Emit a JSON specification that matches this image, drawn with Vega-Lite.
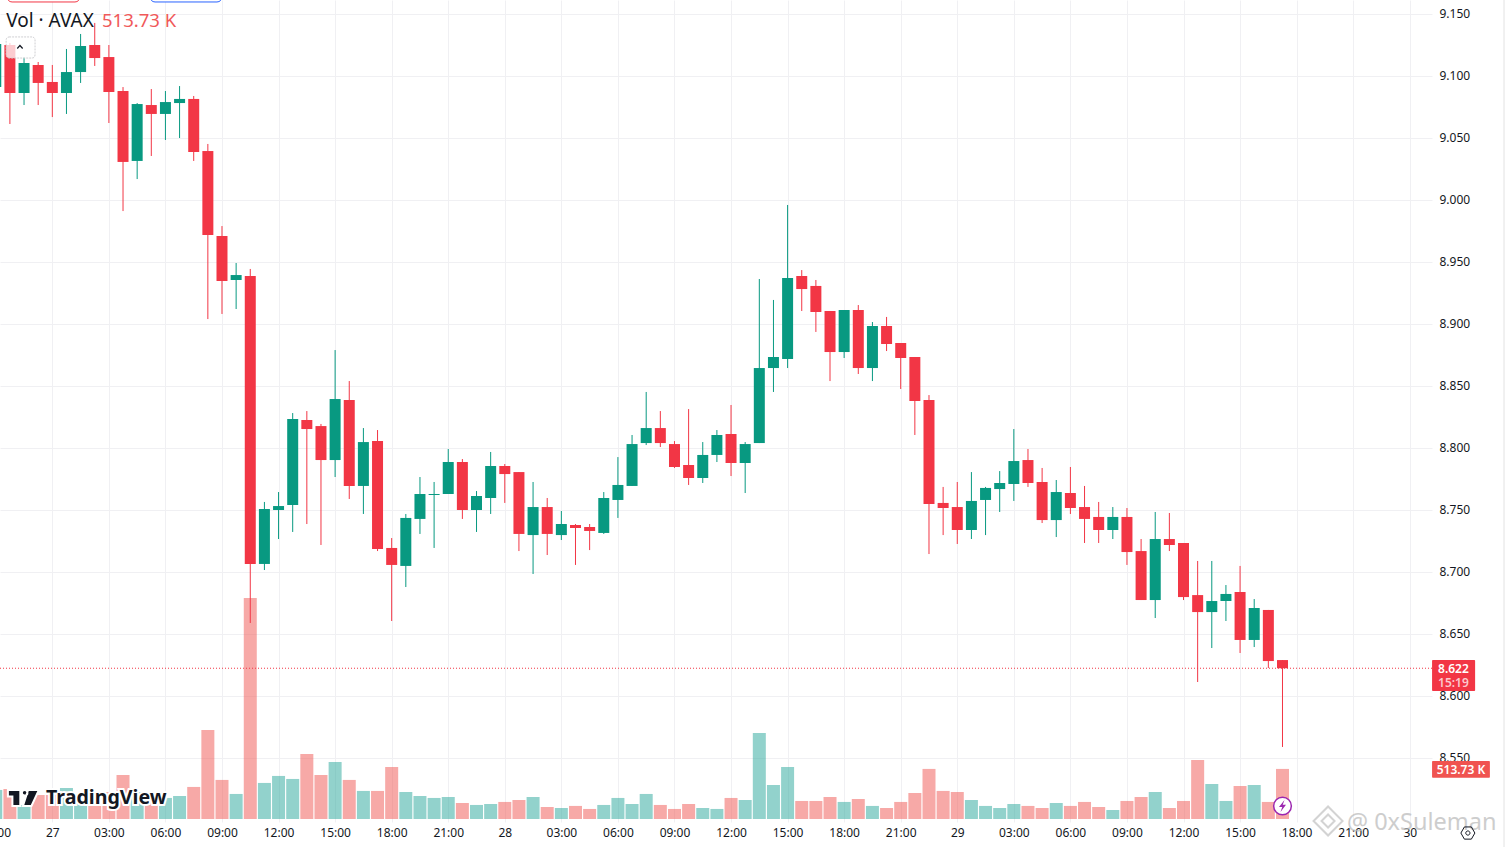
{
  "$schema": "https://vega.github.io/schema/vega-lite/v6.json",
  "width": 1432,
  "height": 822,
  "autosize": "none",
  "padding": {"left": 0, "top": 0, "right": 73, "bottom": 25},
  "background": "white",
  "config": {"view": {"stroke": null}, "font": "Noto Sans"},
  "datasets": {
    "candles": [
      {"t":"2026-01-26T21:00:00Z","open":9.0907,"high":9.1254,"low":9.0907,"close":9.1254,"volume":298},
      {"t":"2026-01-26T21:45:00Z","open":9.1246,"high":9.1262,"low":9.0609,"close":9.0859,"volume":308},
      {"t":"2026-01-26T22:30:00Z","open":9.0859,"high":9.1149,"low":9.0762,"close":9.1101,"volume":144},
      {"t":"2026-01-26T23:15:00Z","open":9.1085,"high":9.1109,"low":9.0762,"close":9.0940,"volume":246},
      {"t":"2026-01-27T00:00:00Z","open":9.0948,"high":9.1085,"low":9.0665,"close":9.0859,"volume":246},
      {"t":"2026-01-27T00:45:00Z","open":9.0859,"high":9.1214,"low":9.0690,"close":9.1028,"volume":318},
      {"t":"2026-01-27T01:30:00Z","open":9.1028,"high":9.1335,"low":9.0940,"close":9.1238,"volume":205},
      {"t":"2026-01-27T02:15:00Z","open":9.1246,"high":9.1424,"low":9.1077,"close":9.1141,"volume":205},
      {"t":"2026-01-27T03:00:00Z","open":9.1149,"high":9.1246,"low":9.0617,"close":9.0867,"volume":277},
      {"t":"2026-01-27T03:45:00Z","open":9.0875,"high":9.0907,"low":8.9907,"close":9.0303,"volume":452},
      {"t":"2026-01-27T04:30:00Z","open":9.0311,"high":9.0778,"low":9.0165,"close":9.0770,"volume":277},
      {"t":"2026-01-27T05:15:00Z","open":9.0762,"high":9.0891,"low":9.0351,"close":9.0690,"volume":205},
      {"t":"2026-01-27T06:00:00Z","open":9.0690,"high":9.0875,"low":9.0480,"close":9.0786,"volume":216},
      {"t":"2026-01-27T06:45:00Z","open":9.0778,"high":9.0915,"low":9.0496,"close":9.0811,"volume":236},
      {"t":"2026-01-27T07:30:00Z","open":9.0811,"high":9.0835,"low":9.0311,"close":9.0383,"volume":329},
      {"t":"2026-01-27T08:15:00Z","open":9.0391,"high":9.0448,"low":8.9036,"close":8.9714,"volume":914},
      {"t":"2026-01-27T09:00:00Z","open":8.9706,"high":8.9786,"low":8.9077,"close":8.9343,"volume":401},
      {"t":"2026-01-27T09:45:00Z","open":8.9351,"high":8.9488,"low":8.9117,"close":8.9391,"volume":257},
      {"t":"2026-01-27T10:30:00Z","open":8.9383,"high":8.9440,"low":8.6585,"close":8.7061,"volume":2270},
      {"t":"2026-01-27T11:15:00Z","open":8.7061,"high":8.7561,"low":8.7012,"close":8.7504,"volume":370},
      {"t":"2026-01-27T12:00:00Z","open":8.7496,"high":8.7641,"low":8.7262,"close":8.7528,"volume":442},
      {"t":"2026-01-27T12:45:00Z","open":8.7536,"high":8.8278,"low":8.7319,"close":8.8230,"volume":411},
      {"t":"2026-01-27T13:30:00Z","open":8.8222,"high":8.8294,"low":8.7383,"close":8.8149,"volume":668},
      {"t":"2026-01-27T14:15:00Z","open":8.8173,"high":8.8190,"low":8.7214,"close":8.7899,"volume":452},
      {"t":"2026-01-27T15:00:00Z","open":8.7899,"high":8.8786,"low":8.7762,"close":8.8391,"volume":585},
      {"t":"2026-01-27T15:45:00Z","open":8.8383,"high":8.8536,"low":8.7585,"close":8.7690,"volume":401},
      {"t":"2026-01-27T16:30:00Z","open":8.7690,"high":8.8157,"low":8.7464,"close":8.8044,"volume":288},
      {"t":"2026-01-27T17:15:00Z","open":8.8052,"high":8.8141,"low":8.7165,"close":8.7182,"volume":288},
      {"t":"2026-01-27T18:00:00Z","open":8.7190,"high":8.7270,"low":8.6601,"close":8.7053,"volume":534},
      {"t":"2026-01-27T18:45:00Z","open":8.7045,"high":8.7464,"low":8.6875,"close":8.7432,"volume":277},
      {"t":"2026-01-27T19:30:00Z","open":8.7424,"high":8.7762,"low":8.7303,"close":8.7625,"volume":236},
      {"t":"2026-01-27T20:15:00Z","open":8.7617,"high":8.7722,"low":8.7190,"close":8.7625,"volume":216},
      {"t":"2026-01-27T21:00:00Z","open":8.7625,"high":8.7988,"low":8.7625,"close":8.7883,"volume":226},
      {"t":"2026-01-27T21:45:00Z","open":8.7883,"high":8.7907,"low":8.7424,"close":8.7496,"volume":164},
      {"t":"2026-01-27T22:30:00Z","open":8.7496,"high":8.7649,"low":8.7319,"close":8.7609,"volume":144},
      {"t":"2026-01-27T23:15:00Z","open":8.7593,"high":8.7964,"low":8.7464,"close":8.7851,"volume":154},
      {"t":"2026-01-28T00:00:00Z","open":8.7851,"high":8.7867,"low":8.7553,"close":8.7786,"volume":175},
      {"t":"2026-01-28T00:45:00Z","open":8.7802,"high":8.7802,"low":8.7165,"close":8.7303,"volume":195},
      {"t":"2026-01-28T01:30:00Z","open":8.7294,"high":8.7722,"low":8.6980,"close":8.7520,"volume":226},
      {"t":"2026-01-28T02:15:00Z","open":8.7520,"high":8.7593,"low":8.7133,"close":8.7303,"volume":123},
      {"t":"2026-01-28T03:00:00Z","open":8.7294,"high":8.7488,"low":8.7254,"close":8.7383,"volume":113},
      {"t":"2026-01-28T03:45:00Z","open":8.7375,"high":8.7383,"low":8.7053,"close":8.7351,"volume":134},
      {"t":"2026-01-28T04:30:00Z","open":8.7359,"high":8.7383,"low":8.7173,"close":8.7327,"volume":103},
      {"t":"2026-01-28T05:15:00Z","open":8.7311,"high":8.7641,"low":8.7303,"close":8.7593,"volume":144},
      {"t":"2026-01-28T06:00:00Z","open":8.7577,"high":8.7923,"low":8.7432,"close":8.7698,"volume":216},
      {"t":"2026-01-28T06:45:00Z","open":8.7690,"high":8.8101,"low":8.7690,"close":8.8028,"volume":154},
      {"t":"2026-01-28T07:30:00Z","open":8.8036,"high":8.8448,"low":8.8020,"close":8.8157,"volume":257},
      {"t":"2026-01-28T08:15:00Z","open":8.8157,"high":8.8294,"low":8.8004,"close":8.8036,"volume":144},
      {"t":"2026-01-28T09:00:00Z","open":8.8028,"high":8.8052,"low":8.7835,"close":8.7843,"volume":103},
      {"t":"2026-01-28T09:45:00Z","open":8.7859,"high":8.8310,"low":8.7698,"close":8.7754,"volume":154},
      {"t":"2026-01-28T10:30:00Z","open":8.7754,"high":8.8044,"low":8.7714,"close":8.7940,"volume":113},
      {"t":"2026-01-28T11:15:00Z","open":8.7940,"high":8.8141,"low":8.7883,"close":8.8101,"volume":103},
      {"t":"2026-01-28T12:00:00Z","open":8.8109,"high":8.8343,"low":8.7770,"close":8.7875,"volume":216},
      {"t":"2026-01-28T12:45:00Z","open":8.7875,"high":8.8044,"low":8.7633,"close":8.8028,"volume":195},
      {"t":"2026-01-28T13:30:00Z","open":8.8036,"high":8.9359,"low":8.8036,"close":8.8641,"volume":883},
      {"t":"2026-01-28T14:15:00Z","open":8.8641,"high":8.9190,"low":8.8448,"close":8.8730,"volume":349},
      {"t":"2026-01-28T15:00:00Z","open":8.8714,"high":8.9956,"low":8.8641,"close":8.9367,"volume":534},
      {"t":"2026-01-28T15:45:00Z","open":8.9383,"high":8.9431,"low":8.9101,"close":8.9278,"volume":185},
      {"t":"2026-01-28T16:30:00Z","open":8.9303,"high":8.9351,"low":8.8932,"close":8.9093,"volume":185},
      {"t":"2026-01-28T17:15:00Z","open":8.9101,"high":8.9101,"low":8.8536,"close":8.8770,"volume":226},
      {"t":"2026-01-28T18:00:00Z","open":8.8770,"high":8.9109,"low":8.8722,"close":8.9109,"volume":175},
      {"t":"2026-01-28T18:45:00Z","open":8.9109,"high":8.9149,"low":8.8593,"close":8.8641,"volume":205},
      {"t":"2026-01-28T19:30:00Z","open":8.8641,"high":8.9012,"low":8.8536,"close":8.8980,"volume":134},
      {"t":"2026-01-28T20:15:00Z","open":8.8980,"high":8.9053,"low":8.8778,"close":8.8835,"volume":113},
      {"t":"2026-01-28T21:00:00Z","open":8.8843,"high":8.8843,"low":8.8472,"close":8.8722,"volume":175},
      {"t":"2026-01-28T21:45:00Z","open":8.8730,"high":8.8730,"low":8.8101,"close":8.8375,"volume":267},
      {"t":"2026-01-28T22:30:00Z","open":8.8383,"high":8.8423,"low":8.7141,"close":8.7545,"volume":514},
      {"t":"2026-01-28T23:15:00Z","open":8.7553,"high":8.7682,"low":8.7294,"close":8.7512,"volume":288},
      {"t":"2026-01-29T00:00:00Z","open":8.7520,"high":8.7722,"low":8.7222,"close":8.7335,"volume":277},
      {"t":"2026-01-29T00:45:00Z","open":8.7335,"high":8.7802,"low":8.7262,"close":8.7569,"volume":195},
      {"t":"2026-01-29T01:30:00Z","open":8.7577,"high":8.7682,"low":8.7294,"close":8.7674,"volume":134},
      {"t":"2026-01-29T02:15:00Z","open":8.7665,"high":8.7810,"low":8.7480,"close":8.7714,"volume":113},
      {"t":"2026-01-29T03:00:00Z","open":8.7706,"high":8.8149,"low":8.7569,"close":8.7891,"volume":154},
      {"t":"2026-01-29T03:45:00Z","open":8.7899,"high":8.7988,"low":8.7682,"close":8.7714,"volume":134},
      {"t":"2026-01-29T04:30:00Z","open":8.7722,"high":8.7835,"low":8.7391,"close":8.7415,"volume":113},
      {"t":"2026-01-29T05:15:00Z","open":8.7415,"high":8.7738,"low":8.7278,"close":8.7641,"volume":164},
      {"t":"2026-01-29T06:00:00Z","open":8.7633,"high":8.7843,"low":8.7464,"close":8.7512,"volume":134},
      {"t":"2026-01-29T06:45:00Z","open":8.7520,"high":8.7690,"low":8.7230,"close":8.7424,"volume":175},
      {"t":"2026-01-29T07:30:00Z","open":8.7440,"high":8.7561,"low":8.7230,"close":8.7335,"volume":123},
      {"t":"2026-01-29T08:15:00Z","open":8.7335,"high":8.7520,"low":8.7262,"close":8.7440,"volume":92},
      {"t":"2026-01-29T09:00:00Z","open":8.7440,"high":8.7512,"low":8.7053,"close":8.7157,"volume":185},
      {"t":"2026-01-29T09:45:00Z","open":8.7165,"high":8.7262,"low":8.6770,"close":8.6770,"volume":226},
      {"t":"2026-01-29T10:30:00Z","open":8.6770,"high":8.7480,"low":8.6625,"close":8.7262,"volume":277},
      {"t":"2026-01-29T11:15:00Z","open":8.7262,"high":8.7472,"low":8.7165,"close":8.7214,"volume":113},
      {"t":"2026-01-29T12:00:00Z","open":8.7230,"high":8.7230,"low":8.6770,"close":8.6794,"volume":185},
      {"t":"2026-01-29T12:45:00Z","open":8.6810,"high":8.7085,"low":8.6109,"close":8.6673,"volume":606},
      {"t":"2026-01-29T13:30:00Z","open":8.6673,"high":8.7085,"low":8.6383,"close":8.6762,"volume":359},
      {"t":"2026-01-29T14:15:00Z","open":8.6762,"high":8.6891,"low":8.6601,"close":8.6819,"volume":185},
      {"t":"2026-01-29T15:00:00Z","open":8.6835,"high":8.7045,"low":8.6343,"close":8.6448,"volume":339},
      {"t":"2026-01-29T15:45:00Z","open":8.6448,"high":8.6778,"low":8.6391,"close":8.6706,"volume":349},
      {"t":"2026-01-29T16:30:00Z","open":8.6690,"high":8.6690,"low":8.6222,"close":8.6278,"volume":175},
      {"t":"2026-01-29T17:15:00Z","open":8.6286,"high":8.6286,"low":8.5585,"close":8.6220,"volume":514}
    ]
  },
  "data": {"name": "candles"},
  "encoding": {
    "x": {
      "field": "t",
      "type": "temporal",
      "title": null,
      "scale": {"type": "utc", "padding": 0, "domain": ["2026-01-26T21:13:30Z", "2026-01-30T01:10:48Z"]},
      "axis": {
        "values": [
          "2026-01-26T21:00:00Z","2026-01-27T00:00:00Z","2026-01-27T03:00:00Z","2026-01-27T06:00:00Z","2026-01-27T09:00:00Z","2026-01-27T12:00:00Z","2026-01-27T15:00:00Z","2026-01-27T18:00:00Z","2026-01-27T21:00:00Z",
          "2026-01-28T00:00:00Z","2026-01-28T03:00:00Z","2026-01-28T06:00:00Z","2026-01-28T09:00:00Z","2026-01-28T12:00:00Z","2026-01-28T15:00:00Z","2026-01-28T18:00:00Z","2026-01-28T21:00:00Z",
          "2026-01-29T00:00:00Z","2026-01-29T03:00:00Z","2026-01-29T06:00:00Z","2026-01-29T09:00:00Z","2026-01-29T12:00:00Z","2026-01-29T15:00:00Z","2026-01-29T18:00:00Z","2026-01-29T21:00:00Z",
          "2026-01-30T00:00:00Z"
        ],
        "labelExpr": "utchours(datum.value) === 0 ? utcFormat(datum.value, '%-d') : utcFormat(datum.value, '%H:%M')",
        "labelFontSize": 12,
        "labelColor": "#131722",
        "labelPadding": 5,
        "labelOverlap": false,
        "labelFlush": false,
        "ticks": false,
        "domain": false,
        "grid": true,
        "gridColor": "#F0F0F3",
        "gridWidth": 1
      }
    }
  },
  "resolve": {"scale": {"y": "independent"}},
  "layer": [
    {
      "mark": {"type": "bar", "width": 13, "opacity": 0.5},
      "encoding": {
        "y": {"field": "volume", "type": "quantitative", "axis": null, "scale": {"domain": [-31, 8411], "nice": false, "zero": false}},
        "color": {"condition": {"test": "datum.close >= datum.open", "value": "#26A69A"}, "value": "#EF5350"}
      }
    },
    {
      "mark": {"type": "rule", "size": 1},
      "encoding": {
        "y": {
          "field": "low",
          "type": "quantitative",
          "title": null,
          "scale": {"domain": [8.498, 9.1609], "nice": false, "zero": false},
          "axis": {
            "orient": "right",
            "values": [8.55,8.6,8.65,8.7,8.75,8.8,8.85,8.9,8.95,9.0,9.05,9.1,9.15],
            "format": ".3f",
            "labelFontSize": 12,
            "labelColor": "#131722",
            "labelPadding": 7,
            "ticks": false,
            "domain": false,
            "grid": true,
            "gridColor": "#F0F0F3",
            "gridWidth": 1
          }
        },
        "y2": {"field": "high"},
        "color": {"condition": {"test": "datum.close >= datum.open", "value": "#089981"}, "value": "#F23645"}
      }
    },
    {
      "mark": {"type": "bar", "width": 11},
      "encoding": {
        "y": {"field": "open", "type": "quantitative", "axis": null, "scale": {"domain": [8.498, 9.1609], "nice": false, "zero": false}},
        "y2": {"field": "close"},
        "color": {"condition": {"test": "datum.close >= datum.open", "value": "#089981"}, "value": "#F23645"}
      }
    },
    {
      "encoding": {
        "y": {"field": "price", "type": "quantitative", "axis": null, "scale": {"domain": [8.498, 9.1609], "nice": false, "zero": false}}
      },
      "layer": [
        {
          "data": {"values": [{"t": "2026-01-30T04:57:00Z", "t2": "2026-01-30T05:20:00Z", "price": 9.17, "bottom": 8.47}]},
          "mark": {"type": "rect", "color": "#F0F0F0"},
          "encoding": {"x2": {"field": "t2"}, "y2": {"field": "bottom"}}
        },
        {
          "data": {"values": [{"t": "2026-01-26T21:00:00Z", "price": 8.4895, "label": "21:00"}]},
          "mark": {"type": "text", "color": "#131722", "fontSize": 12},
          "encoding": {"text": {"field": "label"}}
        },
        {
          "data": {"values": [{"t": "2026-01-26T21:13:30Z", "t2": "2026-01-30T01:10:48Z", "price": 8.622}]},
          "mark": {"type": "rule", "size": 1, "color": "#F23645", "strokeDash": [1, 2]},
          "encoding": {"x2": {"field": "t2"}}
        },
        {
          "data": {"values": [{"t": "2026-01-30T01:11:00Z", "t2": "2026-01-30T03:28:00Z", "price": 8.6286, "bottom": 8.6036}]},
          "mark": {"type": "rect", "color": "#F23645", "cornerRadius": 1},
          "encoding": {"x2": {"field": "t2"}, "y2": {"field": "bottom"}}
        },
        {
          "data": {"values": [{"t": "2026-01-30T01:11:00Z", "t2": "2026-01-30T04:15:00Z", "price": 8.5472, "bottom": 8.5337}]},
          "mark": {"type": "rect", "color": "#F05350", "cornerRadius": 1},
          "encoding": {"x2": {"field": "t2"}, "y2": {"field": "bottom"}}
        },
        {
          "data": {"values": [{"t": "2026-01-30T02:19:00Z", "price": 8.6214, "label": "8.622"}, {"t": "2026-01-30T02:43:00Z", "price": 8.5403, "label": "513.73 K"}]},
          "mark": {"type": "text", "color": "white", "fontSize": 12, "fontWeight": 600},
          "encoding": {"text": {"field": "label"}}
        },
        {
          "data": {"values": [{"t": "2026-01-30T02:19:00Z", "price": 8.6101, "label": "15:19"}]},
          "mark": {"type": "text", "color": "#FBC9CE", "fontSize": 12, "fontWeight": 600},
          "encoding": {"text": {"field": "label"}}
        },
        {
          "data": {"values": [{"t": "2026-01-26T21:36:00Z", "t2": "2026-01-27T01:28:00Z", "price": 9.169, "bottom": 9.1593}]},
          "mark": {"type": "rect", "fill": "white", "stroke": "#F23645", "strokeWidth": 1, "cornerRadius": 5},
          "encoding": {"x2": {"field": "t2"}, "y2": {"field": "bottom"}}
        },
        {
          "data": {"values": [{"t": "2026-01-27T05:11:00Z", "t2": "2026-01-27T09:00:00Z", "price": 9.169, "bottom": 9.1593}]},
          "mark": {"type": "rect", "fill": "white", "stroke": "#2962FF", "strokeWidth": 1, "cornerRadius": 5},
          "encoding": {"x2": {"field": "t2"}, "y2": {"field": "bottom"}}
        },
        {
          "data": {"values": [{"t": "2026-01-26T21:33:00Z", "t2": "2026-01-26T23:05:00Z", "price": 9.1311, "bottom": 9.1141}]},
          "mark": {"type": "rect", "fill": "white", "fillOpacity": 0.75, "stroke": "#CFCFD2", "strokeWidth": 1, "strokeDash": [2, 1], "cornerRadius": 3},
          "encoding": {"x2": {"field": "t2"}, "y2": {"field": "bottom"}}
        },
        {
          "data": {"values": [{"t": "2026-01-26T22:17:00Z", "price": 9.123}]},
          "mark": {"type": "point", "filled": false, "shape": "M-.45,.25 L0,-.25 L.45,.25", "size": 144, "stroke": "#131722", "strokeWidth": 1.2, "opacity": 1}
        },
        {
          "data": {"values": [{"t": "2026-01-26T21:33:00Z", "price": 9.144, "label": "Vol · AVAX"}]},
          "mark": {"type": "text", "align": "left", "color": "#131722", "fontSize": 19},
          "encoding": {"text": {"field": "label"}}
        },
        {
          "data": {"values": [{"t": "2026-01-27T02:38:00Z", "price": 9.144, "label": "513.73 K"}]},
          "mark": {"type": "text", "align": "left", "color": "#F0595A", "fontSize": 18.5},
          "encoding": {"text": {"field": "label"}}
        },
        {
          "data": {"values": [{"t": "2026-01-26T22:28:00Z", "price": 8.5174}]},
          "mark": {"type": "point", "filled": true, "shape": "M-1,-.52 L-.2,-.52 L-.2,.52 L-.71,.52 L-.71,-.09 L-1,-.09 Z M-.1,-.33 A.18,.18 0 1 1 .26,-.33 A.18,.18 0 1 1 -.1,-.33 Z M.3,-.52 L1,-.52 L.52,.52 L-.03,.52 Z", "size": 961, "color": "#131722", "stroke": "white", "strokeWidth": 2, "opacity": 1}
        },
        {
          "data": {"values": [{"t": "2026-01-26T23:40:00Z", "price": 8.5174, "label": "TradingView"}]},
          "mark": {"type": "text", "align": "left", "fill": "white", "stroke": "white", "strokeWidth": 4, "fontSize": 19.6, "fontWeight": 700},
          "encoding": {"text": {"field": "label"}}
        },
        {
          "data": {"values": [{"t": "2026-01-26T23:40:00Z", "price": 8.5174, "label": "TradingView"}]},
          "mark": {"type": "text", "align": "left", "color": "#131722", "fontSize": 19.6, "fontWeight": 700},
          "encoding": {"text": {"field": "label"}}
        },
        {
          "data": {"values": [{"t": "2026-01-29T17:15:00Z", "price": 8.5109}]},
          "mark": {"type": "point", "filled": true, "shape": "circle", "size": 314, "fill": "white", "stroke": "#9C27B0", "strokeWidth": 1.5, "opacity": 1}
        },
        {
          "data": {"values": [{"t": "2026-01-29T17:15:00Z", "price": 8.5109}]},
          "mark": {"type": "point", "filled": true, "shape": "M.2,-.6 L-.35,.1 L-.02,.1 L-.2,.6 L.35,-.12 L.02,-.12 Z", "size": 400, "color": "#9C27B0", "opacity": 1}
        },
        {
          "data": {"values": [{"t": "2026-01-29T19:40:00Z", "price": 8.4988}]},
          "mark": {"type": "point", "filled": false, "shape": "M0,-1 L1,0 L0,1 L-1,0 Z M0,-.45 L.45,0 L0,.45 L-.45,0 Z", "size": 841, "stroke": "#C9C9C9", "strokeWidth": 2, "opacity": 0.8}
        },
        {
          "data": {"values": [{"t": "2026-01-29T20:40:00Z", "price": 8.4972, "label": "@ 0xSuleman"}]},
          "mark": {"type": "text", "align": "left", "color": "#BDBDBD", "fontSize": 23.5, "opacity": 0.75},
          "encoding": {"text": {"field": "label"}}
        },
        {
          "data": {"values": [{"t": "2026-01-30T03:05:00Z", "price": 8.4891}]},
          "mark": {"type": "point", "filled": false, "shape": "M-.5,-.87 L.5,-.87 L1,0 L.5,.87 L-.5,.87 L-1,0 Z M.3,0 A.3,.3 0 1 1 -.3,0 A.3,.3 0 1 1 .3,0 Z", "size": 196, "stroke": "#131722", "strokeWidth": 1, "opacity": 1}
        }
      ]
    }
  ]
}
